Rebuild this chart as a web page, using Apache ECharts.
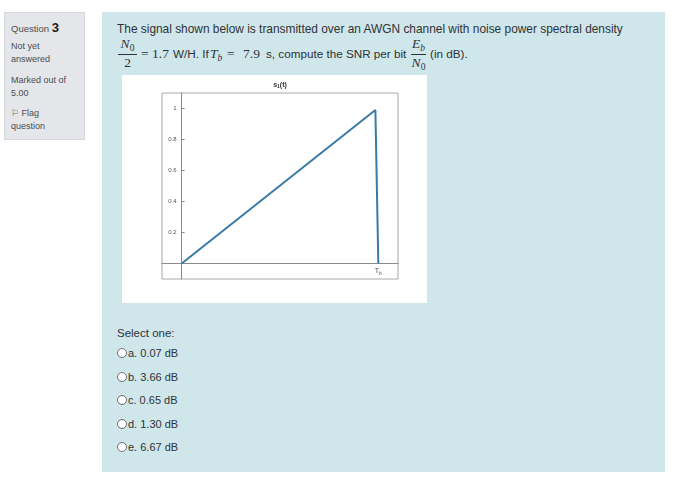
<!DOCTYPE html>
<html><head><meta charset="utf-8">
<script src="https://cdn.jsdelivr.net/npm/echarts@6/dist/echarts.min.js"></script>
<style>
html,body{margin:0;padding:0}
body{width:700px;height:481px;background:#fff;position:relative;overflow:hidden;font-family:"Liberation Sans",Arial,sans-serif;color:#373a3c}
#info{position:absolute;left:4px;top:12px;width:81px;height:128px;background:#e4e6e9;border:1px solid #d3d6da;box-sizing:border-box;font-size:9px;color:#4b4f53;line-height:13px;padding:8px 0 0 6px}
#info .q{font-size:9.5px}
#info .q b{font-size:13px;color:#222}
#info p{margin:0}
#panel{position:absolute;left:102px;top:12px;width:563px;height:460px;background:#cfe6eb}
.t{position:absolute;left:117px;font-size:11.9px;white-space:nowrap;color:#2f3336}
.a{position:absolute;white-space:nowrap;line-height:14px;color:#2f3336}
.sa{font-size:11.7px;top:47px}
.se{font-family:"Liberation Serif","Times New Roman",serif;font-size:13.5px;top:46.5px}
.num,.den{font-family:"Liberation Serif","Times New Roman",serif;font-size:13.5px;text-align:center}
.num{top:37px}
.den{top:55.5px}
.bar{position:absolute;top:54px;height:1px;background:#2f3336}
sub{font-size:9.5px;line-height:0;vertical-align:-3px}
.opt{position:absolute;left:117px;font-size:11px;color:#2f3336;white-space:nowrap}
.rad{display:inline-block;width:8px;height:8px;border:1px solid #6b6f73;border-radius:50%;background:#fff;vertical-align:-1px;margin-right:1px}
#chart{position:absolute;left:122px;top:75px;width:305px;height:228px;background:#fff}
</style></head>
<body>
<div id="info">
<p class="q">Question <b>3</b></p>
<p style="margin-top:5px">Not yet<br>answered</p>
<p style="margin-top:8px">Marked out of<br>5.00</p>
<p style="margin-top:7px">&#x2690; Flag<br>question</p>
</div>
<div id="panel"></div>
<div class="t" style="top:22px">The signal shown below is transmitted over an AWGN channel with noise power spectral density</div>

<span class="a num" style="left:118px;width:19px"><i>N</i><sub>0</sub></span>
<div class="bar" style="left:118px;width:19px"></div>
<span class="a den" style="left:118px;width:19px">2</span>
<span class="a se" style="left:141px">=</span>
<span class="a se" style="left:152px">1.7</span>
<span class="a sa" style="left:173px">W/H. If</span>
<span class="a se" style="left:210px"><i>T<sub>b</sub></i></span>
<span class="a se" style="left:227px">=</span>
<span class="a se" style="left:243px">7.9</span>
<span class="a sa" style="left:266px">s, compute the SNR per bit</span>
<span class="a num" style="left:410px;width:17px"><i>E<sub>b</sub></i></span>
<div class="bar" style="left:411px;width:15px"></div>
<span class="a den" style="left:410px;width:17px"><i>N</i><sub>0</sub></span>
<span class="a sa" style="left:430px">(in dB).</span>

<div id="chart"></div>
<div class="opt" style="top:327px;font-size:11.5px">Select one:</div>
<div class="opt" style="top:347px"><span class="rad"></span>a. 0.07 dB</div>
<div class="opt" style="top:371px"><span class="rad"></span>b. 3.66 dB</div>
<div class="opt" style="top:394px"><span class="rad"></span>c. 0.65 dB</div>
<div class="opt" style="top:418px"><span class="rad"></span>d. 1.30 dB</div>
<div class="opt" style="top:441px"><span class="rad"></span>e. 6.67 dB</div>
<script>
// data
const xRange = [-0.1, 1.1];
const yRange = [-0.1, 1.1];
const signalT = [0, 0.985, 1];
const signalS = [0, 0.99, 0];
const yTicks = [0.2, 0.4, 0.6, 0.8, 1];
const xTicks = [1];
const xTickLabels = ['T{sub|b}'];
const titleText = 's{sub|1}(t)';

const G = {left: 40, top: 18, width: 236, height: 186};
// shift axes inward so they pass through the origin (labels follow)
const yAxisOffset = -G.width * (0 - xRange[0]) / (xRange[1] - xRange[0]);
const xAxisOffset = -G.height * (0 - yRange[0]) / (yRange[1] - yRange[0]);

const pts = signalT.map((t, i) => [t, signalS[i]]);
const chart = echarts.init(document.getElementById('chart'), null, {renderer: 'canvas'});
chart.setOption({
  animation: false,
  backgroundColor: '#fff',
  textStyle: {fontFamily: 'Liberation Sans, Arial, sans-serif'},
  grid: Object.assign({show: true, borderColor: '#a9a9a9', borderWidth: 1, backgroundColor: '#fff'}, G),
  graphic: [{
    type: 'text', x: G.left + G.width / 2, y: 10,
    style: {text: titleText, fill: '#333', font: 'bold 7px Liberation Sans, Arial', align: 'center', verticalAlign: 'middle',
      rich: {sub: {fontSize: 5, fontWeight: 'bold', padding: [4, 0, 0, 0]}}}
  }],
  xAxis: {
    type: 'value', min: xRange[0], max: xRange[1], position: 'bottom', offset: xAxisOffset,
    axisLine: {onZero: false, lineStyle: {color: '#8a8a8a', width: 1}},
    axisTick: {show: false},
    splitLine: {show: false},
    axisLabel: {
      customValues: xTicks, margin: 3, color: '#555', fontSize: 7,
      formatter: (v) => xTickLabels[xTicks.indexOf(v)] || '',
      rich: {sub: {fontSize: 5, color: '#555', padding: [5, 0, 0, 0]}}
    }
  },
  yAxis: {
    type: 'value', min: yRange[0], max: yRange[1], position: 'left', offset: yAxisOffset,
    axisLine: {onZero: false, lineStyle: {color: '#8a8a8a', width: 1}},
    axisTick: {show: true, inside: true, length: 3, customValues: yTicks, lineStyle: {color: '#8a8a8a'}},
    splitLine: {show: false},
    axisLabel: {customValues: yTicks, margin: 5, color: '#555', fontSize: 6}
  },
  series: [{
    type: 'line', data: pts, showSymbol: false, symbol: 'none',
    lineStyle: {color: '#3a7aa6', width: 2}
  }]
});
</script>
</body></html>
